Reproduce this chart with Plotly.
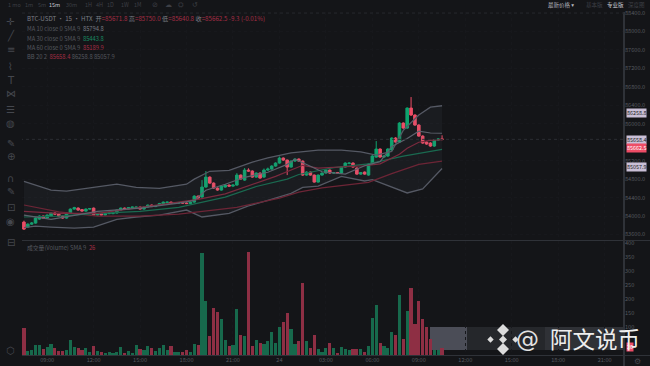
import plotly.graph_objects as go

OPEN = [83869,83760,83825,83847,83934,83999,83956,83999,84064,84042,83999,83956,84064,84151,84172,84140,84107,84151,84172,84021,
84053,84021,84053,84053,84064,84129,84172,84151,84172,84172,84194,84151,84194,84237,84205,84237,84259,84291,84302,84281,
84281,84291,84281,84270,84302,84432,84411,84628,84844,84714,84606,84563,84628,84671,84649,84671,84888,84779,84996,84975,
84844,84931,84844,84996,85018,85083,85148,85257,85213,85061,85191,85235,85191,84888,84953,84888,84736,84888,84931,84996,
84931,84942,84931,85061,85137,85148,85040,84909,84953,84888,85126,85278,85452,85278,85300,85430,85690,85603,86015,85907,
86340,86189,85972,85733,85603,85582,85517,85647,85671.8]
CLOSE = [83717,83825,83847,83956,83999,83956,84021,84064,84042,83999,83956,84064,84151,84183,84129,84107,84151,84161,84021,84042,
84021,84053,84064,84075,84129,84172,84151,84183,84194,84194,84151,84194,84237,84205,84227,84270,84302,84302,84281,84291,
84291,84281,84270,84302,84432,84389,84628,84844,84714,84606,84563,84649,84671,84649,84671,84888,84801,84996,84975,84844,
84931,84823,84996,85018,85083,85148,85257,85213,85061,85191,85235,85191,84888,84953,84888,84736,84888,84931,84996,84931,
84942,84931,85061,85148,85148,85061,84909,84942,84909,85126,85300,85452,85278,85300,85452,85690,85603,86015,85907,86340,
86189,85972,85733,85582,85560,85517,85647,85668,85662.5]
HIGH = [83900,83840,83870,83970,84015,84010,84035,84080,84085,84055,84010,84075,84165,84200,84190,84150,84165,84175,84185,84055,
84065,84065,84075,84090,84140,84185,84185,84195,84205,84205,84205,84205,84250,84250,84240,84285,84315,84315,84315,84305,
84305,84305,84295,84315,84450,84445,84779,84975,84860,84730,84620,84665,84690,84685,84690,84930,84900,85040,85035,84990,
84945,84945,85030,85050,85100,85165,85290,85270,85225,85205,85250,85250,85205,84970,84965,84900,84900,84945,85015,85010,
84955,84955,85075,85165,85165,85165,85055,84955,84965,85140,85320,85625,85465,85315,85470,85705,85710,86035,86030,86355,
86579,86205,85990,85750,85620,85600,85665,85685,85750]
LOW = [83700,83745,83810,83835,83920,83945,83945,83990,84030,83985,83940,83945,84055,84140,84115,84095,84095,84140,84010,84010,
84010,84010,84040,84040,84055,84120,84140,84140,84160,84160,84140,84140,84185,84195,84195,84225,84250,84280,84270,84270,
84270,84270,84260,84260,84290,84375,84400,84615,84700,84590,84550,84550,84615,84635,84635,84660,84790,84765,84960,84830,
84830,84810,84830,84980,85005,85070,85135,85195,84888,85050,85175,85175,84870,84875,84875,84725,84725,84875,84920,84915,
84920,84915,84915,85050,85125,85050,84895,84895,84895,84875,85110,85265,85265,85265,85285,85415,85590,85590,85890,85890,
86170,85955,85720,85565,85545,85500,85500,85635,85640.8]
VOLUME = [95,14,18,34,34,20,27,39,23,14,14,18,52,27,23,18,24,12,32,14,10,8,12,7,12,27,6,15,6,34,20,18,30,23,13,24,36,18,31,12,12,10,18,12,38,34,363,194,68,167,154,
130,54,32,36,163,70,69,368,32,54,44,39,50,80,42,99,118,149,94,40,49,256,49,26,71,20,12,25,42,24,6,27,20,18,21,21,21,12,33,133,180,44,32,24,83,70,213,56,158,238,111,192,127,99,56,18,18,26]

BB_UP_X = [0,7,11,16,21,24,29,35,42,44,48,53,59,63,69,76,82,87,91,95,98,102,105,108]
BB_UP = [84750,84560,84540,84600,84670,84690,84620,84600,84690,84800,84970,84990,85170,85260,85370,85430,85430,85390,85320,85400,85860,86190,86360,86390]
BB_LO_X = [0,3,7,13,18,21,24,29,35,42,46,53,58,63,69,72,76,82,88,90,94,99,103,108]
BB_LO = [83750,83780,83760,83740,83760,83850,83930,83980,84020,84130,83980,84060,84220,84340,84490,84620,84650,84860,84760,84790,84660,84500,84590,85030]
BB_MID_X = [0,9,19,30,40,45,52,58,65,72,76,88,92,97,99,102,105,108]
BB_MID = [84100,84060,84060,84190,84300,84360,84480,84650,84860,85100,85040,85090,85130,85340,85470,85600,85640,85658]
MA10_X = [0,7,19,30,40,44,47,52,57,63,68,70,74,77,83,88,92,95,99,102,105,108]
MA10 = [84020,83930,84100,84170,84280,84340,84560,84690,84840,84950,85120,85230,85080,84960,84910,85090,85180,85510,85680,85840,85800,85794.8]
MA30_X = [0,9,19,30,40,45,52,60,68,71,76,80,89,94,98,108]
MA30 = [83980,84000,84060,84100,84190,84280,84410,84640,84800,84900,84980,85050,85130,85230,85300,85443.8]
MA60_X = [0,9,19,30,40,45,55,66,71,77,89,95,102,108]
MA60 = [84240,84090,84000,84000,84040,84090,84190,84390,84520,84610,84730,84920,85120,85189.9]

TICK_POS = [6,18,30,42,54,66,78,90,102,114,126,138,150]
TICK_TXT = ["09:00","12:00","15:00","18:00","21:00","24","03:00","06:00","09:00","12:00","15:00","18:00","21:00"]
PRICE_TICKS = [88400,88000,87600,87200,86800,86400,86000,85200,84800,84400,84000,83600]
VOL_TICKS = [100,150,200,250,300,350,400]
PERIODS = ["1 mo","1m","5m","15m","30m","1H","4H","1D","1W","1M"]
LAST = 85662.5

BG = "#141518"; UP = "#0fa36e"; DN = "#ee4d66"; VUP = "#17694c"; VDN = "#8e2f44"
GRID = "#17181c"; TXT = "#55585f"
W, H = 650, 366
L_, R_, T_, B_ = 22, 26, 12, 11
def fx(px): return (px - L_) / (W - L_ - R_)
def fy(py): return (H - B_ - py) / (H - T_ - B_)

BAR_IDX = list(range(len(OPEN)))
fig = go.Figure()
fig.add_trace(go.Scatter(x=BB_LO_X, y=BB_LO, mode="lines", line=dict(color="#555964", width=1.3), hoverinfo="skip"))
fig.add_trace(go.Scatter(x=BB_UP_X, y=BB_UP, mode="lines", line=dict(color="#555964", width=1.3), fill="tonexty", fillcolor="rgba(120,124,135,0.07)", hoverinfo="skip"))
fig.add_trace(go.Scatter(x=MA60_X, y=MA60, mode="lines", line=dict(color="#6d2536", width=1.2)))
fig.add_trace(go.Scatter(x=MA30_X, y=MA30, mode="lines", line=dict(color="#1a6a50", width=1.2)))
fig.add_trace(go.Scatter(x=BB_MID_X, y=BB_MID, mode="lines", line=dict(color="#7a2a3e", width=1.2)))
fig.add_trace(go.Scatter(x=MA10_X, y=MA10, mode="lines", line=dict(color="#5d616c", width=1.2)))
fig.add_trace(go.Scatter(x=[-1, 155], y=[LAST, LAST], mode="lines", line=dict(color="#2c2e33", width=1, dash="dot")))
fig.add_trace(go.Candlestick(x=BAR_IDX, open=OPEN, high=HIGH, low=LOW, close=CLOSE,
    increasing=dict(line=dict(color=UP, width=1), fillcolor=UP),
    decreasing=dict(line=dict(color=DN, width=1), fillcolor=DN), whiskerwidth=0))
fig.add_trace(go.Bar(x=BAR_IDX, y=VOLUME, yaxis="y2", width=0.82,
    marker=dict(color=[VUP if c >= o else VDN for o, c in zip(OPEN, CLOSE)], line=dict(width=0))))

shapes = [
    dict(type="rect", xref="paper", yref="paper", x0=fx(430), x1=fx(467), y0=fy(350), y1=fy(327), fillcolor="#4b4d57", line=dict(width=0), layer="below"),
    dict(type="rect", xref="paper", yref="paper", x0=fx(467), x1=fx(545), y0=fy(350), y1=fy(327), fillcolor="#25272b", line=dict(width=0), layer="below"),
    dict(type="rect", xref="paper", yref="paper", x0=fx(545), x1=fx(624), y0=fy(350), y1=fy(327), fillcolor="#2f3136", line=dict(width=0), layer="below"),
    dict(type="line", xref="paper", yref="paper", x0=0, x1=fx(650), y0=fy(240.5), y1=fy(240.5), line=dict(color="#2f3238", width=1)),
    dict(type="line", xref="paper", yref="paper", x0=0, x1=fx(650), y0=fy(355.5), y1=fy(355.5), line=dict(color="#2f3238", width=1)),
    dict(type="line", xref="paper", yref="paper", x0=fx(624), x1=fx(624), y0=fy(366), y1=fy(12), line=dict(color="#2f3238", width=2)),
    dict(type="line", xref="paper", yref="paper", x0=fx(22), x1=fx(624), y0=fy(13), y1=fy(13), line=dict(color="#24262a", width=1, dash="dot")),
]
# Binance-style logo: five diamonds
for cx, cy, r in [(503, 339.5, 4), (490.5, 339.5, 3.2), (515.5, 339.5, 3.2), (503, 330, 6), (503, 349, 6)]:
    path = f"M {fx(cx-r)} {fy(cy)} L {fx(cx)} {fy(cy-r)} L {fx(cx+r)} {fy(cy)} L {fx(cx)} {fy(cy+r)} Z"
    shapes.append(dict(type="path", xref="paper", yref="paper", path=path, fillcolor="#dcdcdc", line=dict(width=0)))

FONT = "Noto Sans CJK SC, Noto Sans, DejaVu Sans"
ann = []
def t(px, py, s, size=6.5, color=TXT, anchor="left", bg=None, family=FONT):
    a = dict(xref="paper", yref="paper", x=fx(px), y=fy(py), text=s, showarrow=False, xanchor=anchor, yanchor="middle",
             font=dict(size=size, color=color, family=family), borderpad=0)
    if bg: a["bgcolor"] = bg
    ann.append(a)

for px, s in zip([14, 29, 42, 54, 71, 88, 99, 110, 125, 138], PERIODS):
    t(px, 5, s, 5.5, "#c8cad0" if s == "15m" else "#3d3f45", "center")
for px, s in zip([155, 168, 181, 195], ["⊘", "☁", "⛭", "↺"]):
    t(px, 5, s, 7, "#3d3f45", "center", family="DejaVu Sans")
t(561, 5, "最新价格 ▾", 5.5, "#b8bac0", "center")
t(594, 5, "基本版", 5.5, "#3d3f45", "center")
t(615, 5, "专业版", 5.5, "#c8cad0", "center")
t(636, 5, "深度图", 5.5, "#3d3f45", "center")

R = "#a52d45"
t(26, 18.5, f"BTC-USDT · 15 · HTX  开<span style='color:{R}'>=85671.8</span> 高<span style='color:{R}'>=85750.0</span> 低<span style='color:{R}'>=85640.8</span> 收<span style='color:{R}'>=85662.5</span> <span style='color:{R}'>-9.3 (-0.01%)</span>", 6.2, "#7b7e86")
t(26, 28.5, "MA 10 close 0 SMA 9  <span style='color:#7b7e86'>85794.8</span>", 5.8)
t(26, 38, "MA 30 close 0 SMA 9  <span style='color:#1a8a62'>85443.8</span>", 5.8)
t(26, 47.5, f"MA 60 close 0 SMA 9  <span style='color:{R}'>85189.9</span>", 5.8)
t(26, 57, f"BB 20 2  <span style='color:{R}'>85658.4</span> 86258.8 85057.9", 5.8)
t(26, 247, f"成交量(Volume) SMA 9  <span style='color:{R}'>26</span>", 5.8)

icons = [(21,"✛"),(35,"╱"),(50,"≡"),(66,"⌇"),(80,"T"),(94,"⋈"),(109,"☰"),(123,"◍"),(143,"✎"),(157,"⊕"),(178,"∩"),(192,"✎"),(207,"⊡"),(221,"◉"),(242,"⊟"),(350,"⬡")]
for py, s in icons:
    t(10.5, py, s, 10, "#44474e", "center", family="DejaVu Sans")

for py, s, bg, c in [(112.5, "86258.8", "#c9bfd6", "#222"), (139.5, "85658.4", "#c9bfd6", "#222"),
                     (147.5, "85662.5", "#ee4d66", "#fff"), (167, "85057.9", "#c9bfd6", "#222")]:
    t(636.5, py, s, 5.4, c, "center", bg)
t(630, 347, "26", 5.4, "#fff", "center", "#ee4d66")
t(637, 361, "⚙", 8, "#44474e", "center", family="DejaVu Sans")

t(527, 339, "@", 23, "#e2e2e2", "center", family="DejaVu Sans")
t(595, 338, "阿文说币", 22.5, "#eeeeee", "center")

fig.update_layout(
    width=W, height=H, margin=dict(l=L_, r=R_, t=T_, b=B_, autoexpand=False), paper_bgcolor=BG, plot_bgcolor=BG,
    showlegend=False, hovermode=False, shapes=shapes, annotations=ann, bargap=0, boxgap=0.05,
    xaxis=dict(domain=[0, 1], range=[-0.5, 155], anchor="y2", tickmode="array", tickvals=TICK_POS, ticktext=TICK_TXT,
               tickfont=dict(size=5.6, color=TXT, family=FONT), showgrid=True, gridcolor=GRID, gridwidth=1, griddash="dot", zeroline=False,
               ticks="", rangeslider=dict(visible=False), showline=False, automargin=False),
    yaxis=dict(domain=[0.335, 1], range=[83479, 88422], side="right", tickmode="array", tickvals=PRICE_TICKS,
               ticktext=[f"{v:.1f}" for v in PRICE_TICKS], tickfont=dict(size=5.6, color=TXT, family=FONT),
               showgrid=True, gridcolor=GRID, griddash="dot", zeroline=False, ticks="", automargin=False),
    yaxis2=dict(domain=[0, 0.332], range=[0, 407], side="right", tickmode="array", tickvals=VOL_TICKS,
                tickfont=dict(size=5.6, color=TXT, family=FONT), showgrid=False, zeroline=False, ticks="", automargin=False),
)
fig.write_html("out.html", config=dict(displayModeBar=False), post_script="document.body.style.margin='0';document.body.style.background='#141518';document.documentElement.style.overflow='hidden';")
